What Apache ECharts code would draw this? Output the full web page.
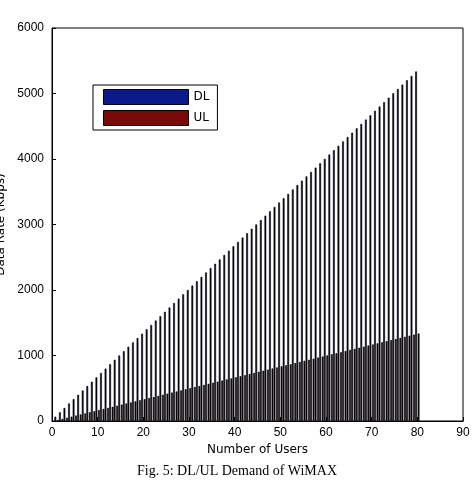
<!DOCTYPE html><html><head><meta charset="utf-8"><script src="https://cdn.jsdelivr.net/npm/echarts@6/dist/echarts.min.js"></script></head><body style="margin:0;background:#fff"><div id="c" style="width:474px;height:489px"></div><script>
const users=[];for(let i=1;i<=80;i++)users.push(i);
const dlPerUser=66.7, ulPerUser=16.7;
const dl=users.map(u=>[u,Math.round(u*dlPerUser)]);
const ul=users.map(u=>[u,Math.round(u*ulPerUser)]);
const c=echarts.init(document.getElementById('c'));
c.setOption({animation:false,
grid:{left:52,right:11,top:28,bottom:68,containLabel:false,outerBoundsMode:'none',show:true,borderColor:'#000',borderWidth:1},
title:{text:'Fig. 5: DL/UL Demand of WiMAX',left:'center',bottom:6,textStyle:{fontFamily:'Liberation Serif',fontSize:14,fontWeight:'normal',color:'#000'}},
legend:{orient:'vertical',left:93,top:85,icon:'rect',itemWidth:85,itemHeight:15,itemGap:5,padding:[4,8,4,10],borderColor:'#000',borderWidth:1,backgroundColor:'#fff',textStyle:{fontFamily:'DejaVu Sans',fontSize:12,color:'#000'},data:['DL','UL']},
xAxis:{type:'value',min:0,max:90,interval:10,name:'Number of Users',nameLocation:'middle',nameGap:22,nameTextStyle:{fontFamily:'DejaVu Sans',fontSize:12,color:'#000'},axisLine:{lineStyle:{color:'#000'}},axisTick:{inside:true,length:4,lineStyle:{color:'#000'}},axisLabel:{color:'#000',fontSize:12,margin:6},splitLine:{show:false}},
yAxis:{type:'value',min:0,max:6000,interval:1000,name:'Data Rate (Kbps)',nameLocation:'middle',nameGap:38,nameTextStyle:{fontFamily:'DejaVu Sans',fontSize:12,color:'#000'},axisLine:{show:true,lineStyle:{color:'#000'}},axisTick:{show:true,inside:true,length:4,lineStyle:{color:'#000'}},axisLabel:{color:'#000',fontSize:12,formatter:v=>String(v)},splitLine:{show:false}},
series:[
{name:'DL',type:'bar',data:dl,barWidth:1.8,barGap:'40%',itemStyle:{color:'#000028',borderColor:'#000',borderWidth:0.6},legendIcon:'rect'},
{name:'UL',type:'bar',data:ul,barWidth:1.8,itemStyle:{color:'#200000',borderColor:'#000',borderWidth:0.6}}
],
color:['#0a1a8c','#7a0a0a']});
c.setOption({legend:{data:[{name:'DL',itemStyle:{color:'#0a1a8c',borderColor:'#000',borderWidth:1}},{name:'UL',itemStyle:{color:'#7a0a0a',borderColor:'#000',borderWidth:1}}]}});
</script></body></html>
